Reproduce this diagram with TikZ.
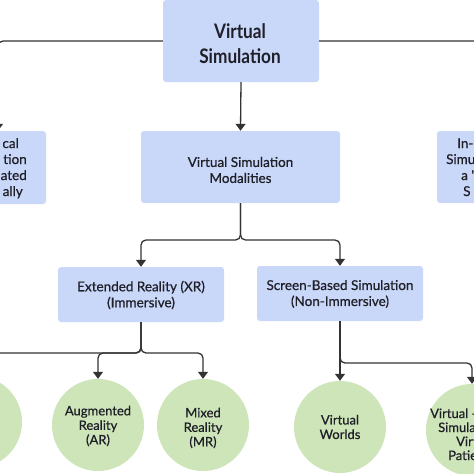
\documentclass[tikz,border=0pt]{standalone}
\usepackage{fontspec}
\setmainfont{Lato}
\newfontfamily\bodyfont{Lato}[FakeBold=0.6]
\usetikzlibrary{arrows.meta}
\definecolor{boxblue}{HTML}{C9D7F9}
\definecolor{circgreen}{HTML}{CDE5B8}
\definecolor{ink}{HTML}{1F1F28}
\definecolor{wirecol}{HTML}{333333}
\begin{document}
\begin{tikzpicture}[x=1pt,y=-1pt,
  bluebox/.style={draw=none, fill=boxblue, rounded corners=3pt, inner sep=0pt},
  circ/.style={circle, fill=circgreen, minimum size=92pt, inner sep=0pt},
  txt/.style={text=ink, inner sep=0pt, align=center, font=\bodyfont\fontsize{13.5}{16}\selectfont},
  ctxt/.style={text=ink, inner sep=0pt, align=center, font=\bodyfont\fontsize{13}{14.5}\selectfont},
  frag/.style={text=ink, inner sep=0pt, font=\bodyfont\fontsize{13.5}{16}\selectfont},
  cfrag/.style={text=ink, inner sep=0pt, font=\bodyfont\fontsize{13}{14.5}\selectfont},
  arr/.style={draw=wirecol, line width=1.3pt, rounded corners=5pt, -{Triangle[width=10pt,length=7pt]}},
  plain/.style={draw=wirecol, line width=1.3pt, rounded corners=5pt}]
\useasboundingbox (0,0) rectangle (474,474);
\clip (0,0) rectangle (474,474);
% boxes
\node[bluebox, minimum width=156pt, minimum height=82pt] (top) at (241,41) {};
\node[text=ink, inner sep=0pt, align=center, font=\bfseries\fontsize{20}{25}\selectfont] (toptxt) at (240,44)
  {\scalebox{0.86}[1]{Virtual}\\\scalebox{0.86}[1]{Simulation}};
\node[bluebox, minimum width=199pt, minimum height=72pt] (mod) at (240.5,167) {};
\node[txt] (modtxt) at (240.5,170) {Virtual Simulation\\Modalities};
\node[bluebox, minimum width=96pt, minimum height=73pt] (lbox) at (-2,167.5) {};
\node[bluebox, minimum width=96pt, minimum height=72pt] (rbox) at (485,167) {};
\node[bluebox, minimum width=166pt, minimum height=55pt] (xr) at (141,294.5) {};
\node[txt] (xrtxt) at (141,295) {Extended Reality (XR)\\(Immersive)};
\node[bluebox, minimum width=166pt, minimum height=55pt] (sb) at (340,293.5) {};
\node[txt] (sbtxt) at (340,294) {Screen-Based Simulation\\(Non-Immersive)};
% fragments of cut-off boxes
\node[frag, anchor=base east] (l1) at (19,148) {cal};
\node[frag, anchor=base east] (l2) at (27,164) {tion};
\node[frag, anchor=base east] (l3) at (27,180) {ated};
\node[frag, anchor=base east] (l4) at (23,196) {ally};
\node[frag, anchor=base west] (r1) at (457,148) {In-};
\node[frag, anchor=base west] (r2) at (446,164) {Simu};
\node[frag, anchor=base west] (r3) at (461,180) {a '};
\node[frag, anchor=base west] (r4) at (463,196) {S};
% circles
\node[circ] (vr) at (-24,422) {};
\node[circ] (ar) at (98,425) {};
\node[ctxt] (artxt) at (98,426) {Augmented\\Reality\\(AR)};
\node[circ] (mr) at (203,425) {};
\node[ctxt] (mrtxt) at (203,428) {Mixed\\Reality\\(MR)};
\node[circ] (vw) at (340,427) {};
\node[ctxt] (vwtxt) at (340,427) {Virtual\\Worlds};
\node[circ] (vp) at (472,430) {};
\node[cfrag, anchor=base west] (p1) at (430,418) {Virtual -};
\node[cfrag, anchor=base west] (p2) at (438,432) {Simula};
\node[cfrag, anchor=base west] (p3) at (456,446) {Virt};
\node[cfrag, anchor=base west] (p4) at (448,460) {Patie};
% connectors
\draw[arr] (top.west) -| (lbox.north);
\draw[arr] (top.east) -| (rbox.north);
\draw[arr] (top.south) -- (mod.north);
\coordinate (j1) at (240,240);
\draw[arr] (mod.south) |- (xr.north |- j1) -- (xr.north);
\draw[arr] (mod.south) |- (sb.north |- j1) -- (sb.north);
\coordinate (j2) at (141,353);
\draw[arr] (xr.south) |- (vr.north |- j2) -- (vr.north);
\draw[arr] (xr.south) |- (ar.north |- j2) -- (ar.north);
\draw[arr] (xr.south) |- (mr.north |- j2) -- (mr.north);
\coordinate (j3) at (340,363);
\draw[arr] (sb.south) -- (vw.north);
\draw[arr] (sb.south) |- (vp.north |- j3) -- (vp.north);
\end{tikzpicture}
\end{document}
